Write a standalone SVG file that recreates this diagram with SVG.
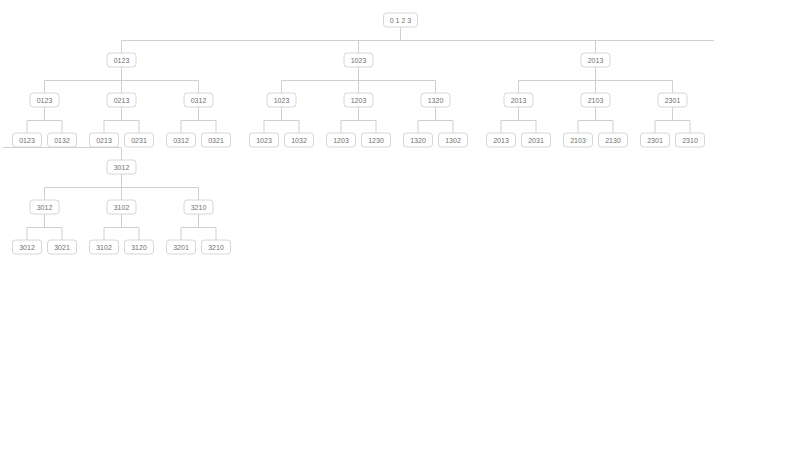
<svg xmlns="http://www.w3.org/2000/svg" width="800" height="450" viewBox="0 0 800 450">
<style>
.bg{fill:#ffffff}
.link{fill:none;stroke:#cfcfcf;stroke-width:1}
.box{fill:#ffffff;stroke:#d6d6d6;stroke-width:1}
.lbl{font-family:"Liberation Sans",Arial,sans-serif;font-size:7px;fill:#707070;text-anchor:middle;dominant-baseline:central}
</style>
<rect class="bg" x="0" y="0" width="800" height="450"/>
<g id="connectors">
<path class="link" d="M400.5,27 V40.5 M121.5,40.5 H714 M121.5,40.5 V53 M358.5,40.5 V53 M595.5,40.5 V53"/>
<path class="link" d="M3,147.5 H121.5 V160"/>
<path class="link" d="M121.5,67 V80.5 M44.5,80.5 H198.5 M44.5,80.5 V93 M121.5,80.5 V93 M198.5,80.5 V93"/>
<path class="link" d="M358.5,67 V80.5 M281.5,80.5 H435.5 M281.5,80.5 V93 M358.5,80.5 V93 M435.5,80.5 V93"/>
<path class="link" d="M595.5,67 V80.5 M518.5,80.5 H672.5 M518.5,80.5 V93 M595.5,80.5 V93 M672.5,80.5 V93"/>
<path class="link" d="M44.5,107 V120.5 M27,120.5 H62 M27,120.5 V133 M62,120.5 V133"/>
<path class="link" d="M121.5,107 V120.5 M104,120.5 H139 M104,120.5 V133 M139,120.5 V133"/>
<path class="link" d="M198.5,107 V120.5 M181,120.5 H216 M181,120.5 V133 M216,120.5 V133"/>
<path class="link" d="M281.5,107 V120.5 M264,120.5 H299 M264,120.5 V133 M299,120.5 V133"/>
<path class="link" d="M358.5,107 V120.5 M341,120.5 H376 M341,120.5 V133 M376,120.5 V133"/>
<path class="link" d="M435.5,107 V120.5 M418,120.5 H453 M418,120.5 V133 M453,120.5 V133"/>
<path class="link" d="M518.5,107 V120.5 M501,120.5 H536 M501,120.5 V133 M536,120.5 V133"/>
<path class="link" d="M595.5,107 V120.5 M578,120.5 H613 M578,120.5 V133 M613,120.5 V133"/>
<path class="link" d="M672.5,107 V120.5 M655,120.5 H690 M655,120.5 V133 M690,120.5 V133"/>
<path class="link" d="M121.5,174 V187.5 M44.5,187.5 H198.5 M44.5,187.5 V200 M121.5,187.5 V200 M198.5,187.5 V200"/>
<path class="link" d="M44.5,214 V227.5 M27,227.5 H62 M27,227.5 V240 M62,227.5 V240"/>
<path class="link" d="M121.5,214 V227.5 M104,227.5 H139 M104,227.5 V240 M139,227.5 V240"/>
<path class="link" d="M198.5,214 V227.5 M181,227.5 H216 M181,227.5 V240 M216,227.5 V240"/>
</g>
<g id="root"><rect class="box" x="383.5" y="13" width="34" height="14" rx="3"/><text class="lbl" x="400.5" y="20">0 1 2 3</text></g>
<g id="n0123"><rect class="box" x="107" y="53" width="29" height="14" rx="3"/><text class="lbl" x="121.5" y="60">0123</text></g>
<g id="n1023"><rect class="box" x="344" y="53" width="29" height="14" rx="3"/><text class="lbl" x="358.5" y="60">1023</text></g>
<g id="n2013"><rect class="box" x="581" y="53" width="29" height="14" rx="3"/><text class="lbl" x="595.5" y="60">2013</text></g>
<g id="n0123-0123"><rect class="box" x="30" y="93" width="29" height="14" rx="3"/><text class="lbl" x="44.5" y="100">0123</text></g>
<g id="n0123-0213"><rect class="box" x="107" y="93" width="29" height="14" rx="3"/><text class="lbl" x="121.5" y="100">0213</text></g>
<g id="n0123-0312"><rect class="box" x="184" y="93" width="29" height="14" rx="3"/><text class="lbl" x="198.5" y="100">0312</text></g>
<g id="n1023-1023"><rect class="box" x="267" y="93" width="29" height="14" rx="3"/><text class="lbl" x="281.5" y="100">1023</text></g>
<g id="n1023-1203"><rect class="box" x="344" y="93" width="29" height="14" rx="3"/><text class="lbl" x="358.5" y="100">1203</text></g>
<g id="n1023-1320"><rect class="box" x="421" y="93" width="29" height="14" rx="3"/><text class="lbl" x="435.5" y="100">1320</text></g>
<g id="n2013-2013"><rect class="box" x="504" y="93" width="29" height="14" rx="3"/><text class="lbl" x="518.5" y="100">2013</text></g>
<g id="n2013-2103"><rect class="box" x="581" y="93" width="29" height="14" rx="3"/><text class="lbl" x="595.5" y="100">2103</text></g>
<g id="n2013-2301"><rect class="box" x="658" y="93" width="29" height="14" rx="3"/><text class="lbl" x="672.5" y="100">2301</text></g>
<g id="l0123"><rect class="box" x="12.5" y="133" width="29" height="14" rx="3"/><text class="lbl" x="27" y="140">0123</text></g>
<g id="l0132"><rect class="box" x="47.5" y="133" width="29" height="14" rx="3"/><text class="lbl" x="62" y="140">0132</text></g>
<g id="l0213"><rect class="box" x="89.5" y="133" width="29" height="14" rx="3"/><text class="lbl" x="104" y="140">0213</text></g>
<g id="l0231"><rect class="box" x="124.5" y="133" width="29" height="14" rx="3"/><text class="lbl" x="139" y="140">0231</text></g>
<g id="l0312"><rect class="box" x="166.5" y="133" width="29" height="14" rx="3"/><text class="lbl" x="181" y="140">0312</text></g>
<g id="l0321"><rect class="box" x="201.5" y="133" width="29" height="14" rx="3"/><text class="lbl" x="216" y="140">0321</text></g>
<g id="l1023"><rect class="box" x="249.5" y="133" width="29" height="14" rx="3"/><text class="lbl" x="264" y="140">1023</text></g>
<g id="l1032"><rect class="box" x="284.5" y="133" width="29" height="14" rx="3"/><text class="lbl" x="299" y="140">1032</text></g>
<g id="l1203"><rect class="box" x="326.5" y="133" width="29" height="14" rx="3"/><text class="lbl" x="341" y="140">1203</text></g>
<g id="l1230"><rect class="box" x="361.5" y="133" width="29" height="14" rx="3"/><text class="lbl" x="376" y="140">1230</text></g>
<g id="l1320"><rect class="box" x="403.5" y="133" width="29" height="14" rx="3"/><text class="lbl" x="418" y="140">1320</text></g>
<g id="l1302"><rect class="box" x="438.5" y="133" width="29" height="14" rx="3"/><text class="lbl" x="453" y="140">1302</text></g>
<g id="l2013"><rect class="box" x="486.5" y="133" width="29" height="14" rx="3"/><text class="lbl" x="501" y="140">2013</text></g>
<g id="l2031"><rect class="box" x="521.5" y="133" width="29" height="14" rx="3"/><text class="lbl" x="536" y="140">2031</text></g>
<g id="l2103"><rect class="box" x="563.5" y="133" width="29" height="14" rx="3"/><text class="lbl" x="578" y="140">2103</text></g>
<g id="l2130"><rect class="box" x="598.5" y="133" width="29" height="14" rx="3"/><text class="lbl" x="613" y="140">2130</text></g>
<g id="l2301"><rect class="box" x="640.5" y="133" width="29" height="14" rx="3"/><text class="lbl" x="655" y="140">2301</text></g>
<g id="l2310"><rect class="box" x="675.5" y="133" width="29" height="14" rx="3"/><text class="lbl" x="690" y="140">2310</text></g>
<g id="n3012"><rect class="box" x="107" y="160" width="29" height="14" rx="3"/><text class="lbl" x="121.5" y="167">3012</text></g>
<g id="n3012-3012"><rect class="box" x="30" y="200" width="29" height="14" rx="3"/><text class="lbl" x="44.5" y="207">3012</text></g>
<g id="n3012-3102"><rect class="box" x="107" y="200" width="29" height="14" rx="3"/><text class="lbl" x="121.5" y="207">3102</text></g>
<g id="n3012-3210"><rect class="box" x="184" y="200" width="29" height="14" rx="3"/><text class="lbl" x="198.5" y="207">3210</text></g>
<g id="l3012"><rect class="box" x="12.5" y="240" width="29" height="14" rx="3"/><text class="lbl" x="27" y="247">3012</text></g>
<g id="l3021"><rect class="box" x="47.5" y="240" width="29" height="14" rx="3"/><text class="lbl" x="62" y="247">3021</text></g>
<g id="l3102"><rect class="box" x="89.5" y="240" width="29" height="14" rx="3"/><text class="lbl" x="104" y="247">3102</text></g>
<g id="l3120"><rect class="box" x="124.5" y="240" width="29" height="14" rx="3"/><text class="lbl" x="139" y="247">3120</text></g>
<g id="l3201"><rect class="box" x="166.5" y="240" width="29" height="14" rx="3"/><text class="lbl" x="181" y="247">3201</text></g>
<g id="l3210"><rect class="box" x="201.5" y="240" width="29" height="14" rx="3"/><text class="lbl" x="216" y="247">3210</text></g>
</svg>
